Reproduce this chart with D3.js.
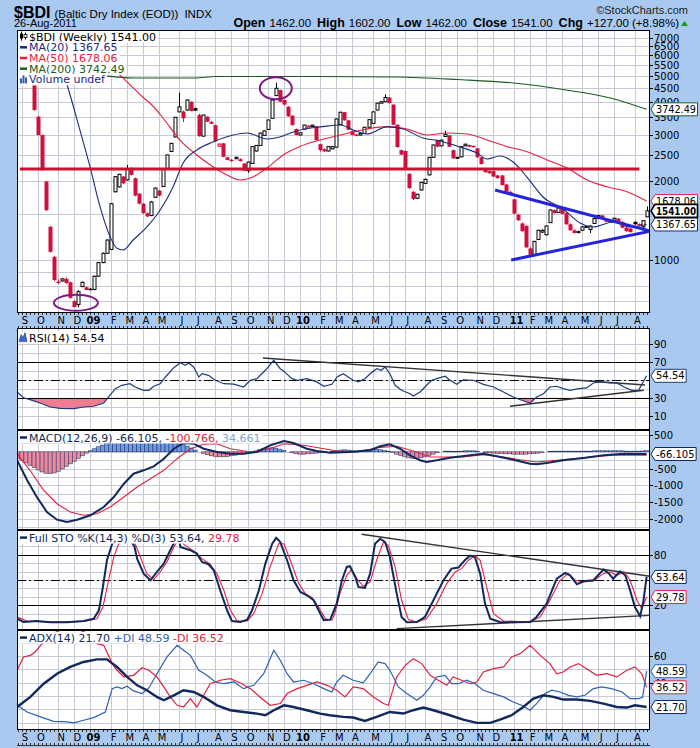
<!DOCTYPE html>
<html><head><meta charset="utf-8">
<script src="https://cdn.jsdelivr.net/npm/d3@7/dist/d3.min.js"></script>
<style>
html,body{margin:0;padding:0;background:#a9c9f1;}
svg{display:block;}
</style></head><body>
<svg id="chart" width="700" height="748"></svg>
<script>
// ================= DATA =================
const firstWeek = "2008-09-26";           // week of the first visible bar (index 0)
const symbolTitle = "$BDI";
const symbolName = "(Baltic Dry Index (EOD))";
const exchange = "INDX";
const lastDate = "26-Aug-2011";
const quote = [["Open","1462.00"],["High","1602.00"],["Low","1462.00"],["Close","1541.00"],["Chg","+127.00 (+8.98%)"]];

const openP = [4700,3510,2990,1990,1340,1030,830,835,850,825,
700,680,795,790,780,775,870,980,1063,1100,
1820,1900,2080,2020,2240,2050,1790,1640,1510,1480,
1735,1840,1905,2230,2590,2940,3660,3670,3720,4000,
3780,3560,2960,3510,3350,3260,2710,2780,2460,2410,
2430,2420,2330,2190,2330,2600,2730,2980,3140,3460,
4220,4430,4060,3830,3540,3150,2990,3145,3180,3220,
3230,2760,2640,2600,2650,2690,3280,3650,3400,3100,
3000,2990,3030,3200,3310,3720,3950,4000,4150,3900,
3270,2620,2600,2130,1820,1720,1850,1960,2110,2460,
2860,2720,2950,2980,2620,2440,2470,2720,2740,2720,
2660,2460,2230,2180,2180,2100,2100,1940,1820,1705,
1490,1380,1350,1110,1050,1200,1280,1250,1390,1550,
1520,1580,1510,1370,1300,1290,1300,1340,1310,1380,
1440,1480,1430,1400,1420,1440,1400,1330,1320,1400,
1375,1340,1462];
const highP = [4750,3530,3000,2000,1350,1040,845,855,860,830,
705,770,830,795,785,875,985,1070,1200,1650,
2090,2130,2090,2300,2260,2060,1800,1650,1520,1680,
1890,1850,2240,2520,2790,3500,4325,3700,4080,4010,
3800,3600,3570,3520,3380,3270,2780,2790,2470,2420,
2470,2440,2340,2370,2710,2740,3050,3110,3420,4070,
4720,4440,4080,3840,3550,3160,3060,3270,3260,3270,
3240,2770,2660,2710,2720,3450,3660,3660,3410,3110,
3020,3040,3210,3430,3670,3960,4010,4270,4160,3910,
3280,2630,2610,2140,1830,1790,1980,2040,2470,2750,
2870,2870,3100,2990,2630,2470,2710,2770,2750,2730,
2670,2470,2240,2190,2190,2110,2110,1950,1830,1710,
1500,1390,1360,1120,1185,1305,1310,1355,1560,1560,
1585,1590,1520,1380,1310,1295,1345,1350,1355,1445,
1485,1485,1435,1415,1450,1445,1405,1335,1325,1405,
1380,1420,1602];
const lowP = [3700,2980,2190,1540,1070,835,815,830,815,715,
663,663,790,770,770,770,865,975,1060,1095,
1810,1890,1950,2010,2100,1750,1630,1500,1460,1470,
1730,1750,1900,2220,2580,2930,3650,3350,3700,3680,
3690,2950,2950,3350,3290,2820,2700,2460,2400,2370,
2420,2370,2180,2150,2320,2590,2720,2970,3130,3450,
4210,3990,3880,3510,3250,2980,2980,3140,3170,3210,
2850,2590,2580,2590,2640,2680,3270,3390,3120,2980,
2970,2980,3020,3190,3300,3710,3940,3990,3940,3260,
2680,2510,2220,1870,1694,1710,1840,1950,2100,2450,
2690,2710,2940,2690,2430,2430,2460,2710,2690,2680,
2450,2310,2150,2130,2070,2040,1920,1810,1780,1500,
1410,1285,1115,1043,1045,1195,1270,1245,1385,1505,
1515,1495,1365,1295,1265,1265,1295,1335,1270,1375,
1435,1435,1395,1395,1415,1395,1325,1285,1275,1365,
1355,1320,1462];
const closeP = [3720,2990,2200,1550,1077,842,825,850,820,720,
665,760,825,772,775,870,980,1063,1194,1640,
2077,2120,1960,2230,2110,1760,1640,1510,1467,1665,
1880,1760,2230,2512,2780,3490,3820,3460,4060,3690,
3700,2960,3560,3360,3300,2830,2760,2470,2405,2380,
2460,2380,2190,2360,2700,2730,3040,3100,3410,4060,
4500,4000,3900,3520,3260,2990,3050,3260,3230,3260,
2860,2620,2590,2700,2700,3440,3650,3400,3130,2990,
2980,3030,3200,3420,3660,3950,4000,4150,3950,3270,
2690,2520,2230,1880,1710,1780,1975,2030,2460,2740,
2700,2860,3000,2700,2440,2460,2700,2760,2700,2690,
2460,2320,2160,2140,2080,2050,1930,1820,1790,1503,
1420,1290,1120,1050,1180,1300,1300,1350,1552,1510,
1580,1500,1370,1300,1270,1270,1340,1345,1350,1440,
1480,1440,1400,1410,1445,1400,1330,1290,1280,1370,
1360,1414,1541];

// moving averages, [week index, value]
const ma20 = [[6.5,5600],[8.1,4700],[10.9,3322],[13.9,2261],[16.4,1594],[18.9,1226],[20.5,1113],[22.1,1094],[24.6,1194],[28,1338],[31.3,1552],[34.5,1898],[37,2341],[40.4,2623],[44.4,2813],[49.4,2990],[52.9,3043],[57.8,2887],[61,2938],[64.3,3070],[68.5,3180],[71,3209],[76,3265],[79.2,3124],[82.6,3016],[87.6,3209],[91.6,3151],[96.5,2912],[100.7,2838],[105.7,2693],[109.9,2555],[112.4,2424],[115.6,2489],[118.9,2361],[122.3,2071],[126.3,1739],[131.3,1566],[135.5,1385],[138.7,1338],[143.7,1398],[147.9,1338],[152,1367.65]];
const ma50 = [[12,6700],[16.4,5970],[21.3,5060],[27,4169],[29.5,3853],[32,3470],[36.2,2862],[40.4,2511],[44.4,2267],[47.9,2108],[51.1,2018],[54.4,2077],[57.8,2240],[61.8,2511],[66,2705],[71,2862],[76,2990],[82.6,3151],[87.6,3216],[92.6,3151],[97.5,2990],[102.5,3043],[107.5,3016],[112.4,2862],[117.4,2700],[122.3,2585],[127.3,2403],[132.3,2240],[137.2,2018],[142.2,1903],[147.1,1822],[152,1678.06]];
const ma200 = [[10,5200],[14,5097],[25,4920],[40,4920],[45,4985],[70,4985],[90,4963],[105,4857],[119,4711],[132,4433],[143,4133],[152,3742.49]];
const maLast = {ma20:"1367.65", ma50:"1678.06", ma200:"3742.49"};
const lastClose = "1541.00";

const priceTicks = [7000,6500,6000,5500,5000,4500,4000,3500,3000,2500,2000,1000];
const priceGrid = [7000,6500,6000,5500,5000,4500,4000,3500,3000,2500,2000,1500,1000,900,800,700];
const supportLevel = [[-3.5,2222],[150.2,2222]];
const upperTrend = [[114.4,1849],[153,1290]];
const lowerTrend = [[118.4,1003],[153,1290]];
const circles = [[10.4,690],[60,4498]];

// RSI(14)
const rsi = [[-4.2,36.4],[-2.6,30],[-1,27.8],[1.5,24],[4,19.6],[6.5,18.1],[9.9,17.7],[12.3,19.6],[14.8,20.4],[17.3,24],[18.5,30.8],[20.2,40.1],[21.8,43.9],[23.8,45.7],[25.1,42],[27.2,38.3],[28.5,38.3],[29.7,42.8],[31.3,45.7],[32.6,53.2],[34.7,63.6],[36.3,69.2],[37.5,66.3],[38.4,68.8],[39.6,64.4],[40.9,53.2],[41.7,56.9],[43.3,55.1],[45,49.5],[47.1,45.7],[49.6,45.2],[52,42],[53.7,49.5],[55.3,51.3],[57.4,60.7],[59.5,71.9],[61.1,62.5],[61.9,60],[64,51.3],[65.3,49.5],[67.7,51.3],[70.2,47.7],[71.9,42.8],[73.9,45],[75.2,53.2],[76.7,56.9],[79.2,49.5],[80.5,47.7],[82.1,51.3],[83.4,56.9],[85,62.5],[86.2,60.7],[87.1,64.4],[88.3,56.9],[89.6,43.9],[91.2,38.3],[93.3,34.5],[94.1,31.9],[95.8,36.4],[97.4,43.9],[98.7,49.5],[99.9,51.3],[102,54],[103.2,49.5],[104.9,45],[106.5,50.1],[109,49.5],[111.5,45],[114,42],[116.5,36.4],[118.9,30.8],[121,27.1],[123.1,24.1],[124.7,30.8],[126.4,34.5],[128,42],[129.7,42.8],[131.3,40.1],[133,38.3],[135.1,40.1],[137.1,40.9],[138.8,46.5],[140.4,47.7],[142.9,46.5],[144.6,46.5],[146.4,42],[148.3,38.3],[150,38.3],[152,54.54]];
const rsiTicks = [90,70,30,10];
const rsiUpper = [[56.8,74.5],[151.6,44.3]];
const rsiLower = [[118.1,20.4],[151.3,38.3]];

// MACD(12,26,9)
const macd = [[-4.2,-253],[-1.7,-848],[0.7,-1345],[3.2,-1792],[5.7,-2020],[8.2,-2089],[10.7,-2020],[14,-1890],[17.3,-1643],[19.8,-1345],[22.3,-949],[24.7,-652],[27.2,-551],[29.7,-432],[32.2,-205],[34.7,92],[37.1,262],[39.6,241],[42.1,92],[45.4,-6],[48.7,-56],[52,-56],[55.3,-6],[58.6,193],[62,321],[64.4,262],[67.7,92],[70.2,24],[73.5,-30],[78.4,-6],[83.4,45],[85.9,164],[88.3,223],[90.8,92],[93.3,-104],[95.8,-253],[97.4,-303],[99.9,-253],[103.2,-176],[108.2,-104],[111.5,-56],[114.8,-134],[118.9,-235],[123.1,-354],[124.7,-372],[127.2,-333],[131.3,-253],[136.3,-185],[141.3,-104],[146.4,-56],[152,-66.105]];
const signal = [[-4.2,-56],[-1,-551],[2.4,-1146],[5.7,-1545],[9,-1792],[12.3,-1890],[15.6,-1842],[18.9,-1643],[22.3,-1345],[25.6,-1048],[28.9,-800],[32.2,-551],[35.5,-205],[38.8,92],[42.1,223],[45.4,241],[48.7,92],[53.7,-6],[58.6,92],[62,241],[66.9,193],[71.9,92],[75.2,24],[80.1,-6],[85.9,133],[90,164],[94.1,24],[98.3,-155],[106.5,-155],[111.5,-86],[116.5,-155],[120.6,-235],[124.7,-303],[129.7,-253],[136.3,-176],[143.7,-104],[152,-100.766]];
const histStart = -4;
const hist = [-200,-260,-330,-400,
-470,-540,-600,-640,-650,-630,-580,-510,-440,-360,
-280,-200,-120,-40,30,90,150,200,240,270,
290,300,310,310,310,310,310,310,310,320,
320,320,320,320,310,290,260,220,170,110,
50,0,-50,-90,-120,-140,-150,-150,-140,-120,
-100,-80,-60,-40,-10,20,60,90,110,120,
110,80,40,0,-30,-60,-70,-70,-60,-50,
-40,-30,-10,0,10,30,50,60,50,30,
20,30,50,60,70,70,60,40,20,-20,
-70,-110,-150,-180,-200,-200,-180,-150,-110,-70,
-30,0,20,20,10,10,20,30,30,30,
20,0,-20,-30,-40,-50,-50,-60,-60,-70,
-70,-70,-70,-60,-50,-40,-20,0,10,20,
20,20,20,20,20,20,20,20,20,30,
30,30,30,30,30,30,30,20,20,20,
20,25,35];
const macdTicks = [500,-500,-1000,-1500,-2000];
const macdLast = ["-66.105","-100.766","34.661"];

// Full STO %K(14,3) %D(3)
const stoK = [[-4.2,4.2],[-2.6,0.2],[0.7,1.4],[4,0],[8.2,0],[12.3,1.4],[14.8,4],[16.1,14],[17.1,41.8],[18.1,73.4],[19.4,93],[20.6,99],[21.8,100],[23.8,98],[24.9,90],[25.6,75],[27.2,57.5],[28.9,49.7],[30.5,59.5],[32.2,69.4],[33.8,85.3],[35.1,97],[36,99],[36.3,89.2],[38.8,85.3],[40.4,81.3],[41.7,71.4],[43.3,68.7],[44.6,61.6],[46.2,37.8],[47.9,14.1],[49.1,1.4],[51.2,0.2],[52.9,3],[54.1,14.1],[55.8,37.8],[57.4,69.4],[59.1,93],[60.1,100],[61.1,95],[62.8,73.4],[64.4,49.7],[66.1,35.8],[67.7,31.9],[69.4,26],[70.6,14.1],[71.9,2.3],[73.5,3],[75.1,22],[76.4,49.7],[77.6,65.5],[78.4,66.3],[79.7,53.6],[80.5,41.8],[82.1,40.6],[83.4,57.5],[84.6,93],[85.9,99],[87.1,95],[88.3,77.3],[90,33.8],[91.2,6.2],[92.5,0],[95,0.2],[97,6.2],[99.1,26],[101.6,49.7],[103.6,63.5],[105.3,64.7],[106.9,73.4],[108.2,78.9],[109.4,77.3],[110.7,57.5],[111.9,22],[113.2,4.2],[115.6,0.2],[118.9,0],[123.1,0.2],[124.7,6.2],[127.2,22],[129.7,51.6],[131.8,58.4],[133,55.6],[134.7,45],[136.7,48.9],[138.8,49.7],[141.3,62.3],[142.5,58.4],[143.7,51.6],[145.4,60.4],[146.7,55.6],[147.9,37.8],[149.1,18],[150.4,7],[151.2,25],[152,53.64]];
const stoD = [[-4.2,6],[-1.7,1.4],[4,0],[12.3,0.8],[15.6,4],[17.1,18],[18.5,49.7],[19.8,77.3],[21,93],[22.5,100],[24,99],[25.1,93],[28,57.5],[29.7,50.5],[31.3,59.5],[33,71.4],[34.7,89.2],[35.8,98],[37.5,91],[39.6,84.5],[41.7,75.4],[43.7,68.7],[45.4,57.5],[47.1,37.8],[48.7,14.1],[50.4,1.4],[52.9,1.4],[54.5,10],[56.6,33.8],[58.6,65.5],[60.7,93],[62,93],[63.6,73.4],[65.7,45.7],[67.3,33.8],[69,29],[70.6,18],[72.3,4],[73.9,2.3],[74.6,10],[75.9,33.8],[77.6,55.6],[78.8,62.3],[80.1,51.6],[81.7,42.6],[83.4,47.7],[85,73.4],[86.7,95],[87.9,91],[89.6,65.5],[91.2,26],[92.9,3],[95,0.2],[97.4,4],[99.9,22],[102.4,45.7],[104.5,59.5],[106.1,63.5],[107.8,73.4],[109.4,79],[110.7,73.4],[112.3,41.8],[114,10],[116.5,1.4],[123.1,0.2],[125.6,6.2],[128,26],[130.5,49.7],[132.6,57.5],[134.3,49.7],[136.3,47.7],[138.8,48.9],[141.3,57.5],[142.9,59.5],[144.6,55.6],[146.4,59.5],[147.9,49.7],[149.6,26],[150.8,15.8],[152,29.78]];
const stoTicks = [80,20];
const stoUpper = [[81.3,104.3],[152.8,54.4]];
const stoLower = [[90,-7.7],[153.3,8.2]];

// ADX(14)
const adx = [[-4.2,21.75],[-0.9,29.3],[2.4,39.2],[5.7,46.7],[9,51.8],[12.3,55.5],[15.6,57.5],[18.1,57.5],[20.6,51.8],[23.1,44.3],[25.6,38],[28,34.3],[30.5,29.3],[32.2,26.8],[34.7,30.5],[37.1,34.3],[39.6,33],[42.1,29.3],[45.4,23],[48.7,19.3],[52,18],[55.3,16.8],[57.4,15.5],[59.5,19.3],[62,23],[64.4,21.75],[67.7,19.3],[71,16.8],[73.4,15.5],[76.7,14.3],[79.2,13.8],[82.1,11.3],[85,14.3],[88.3,18],[91.6,16.8],[94.1,19.3],[96.6,21.3],[99.1,19.3],[102.4,16.3],[106.5,12.3],[109.9,9.8],[113.2,9.8],[115.6,12.3],[118.5,15.5],[121.4,21.75],[123.9,28],[126.4,30.5],[128.9,29.3],[131.3,27.3],[134.7,27.3],[138,26.3],[141.3,24.3],[144.6,21.75],[147.1,21.3],[149.1,23],[152,21.7]];
const plusDI = [[-4.2,23],[-1.7,18],[1.6,14.3],[4.9,11],[8.2,10.5],[9.9,9.8],[12.3,11.8],[14.8,13.8],[17.7,18],[19.4,35.5],[20.6,36.8],[21.8,35.5],[23.1,37.3],[24.7,33.8],[26.8,31.8],[28.5,36],[30.5,46.7],[33,59.3],[35.5,68],[37.1,64.3],[38.8,60.5],[40.9,49.3],[42.9,45.5],[45,40.5],[47.1,39.2],[49.6,40.5],[52,35.5],[54.5,38],[57,46.7],[59.5,64.3],[61.1,56.8],[62.8,46.7],[64.4,40.5],[66.9,41.8],[69.4,39.2],[71.9,35.5],[73.9,33],[75.1,40.5],[76.7,45.5],[79.2,41.8],[81.7,39.8],[83.4,46.7],[85.4,55.5],[87.1,54.3],[88.3,49.3],[90.4,36.8],[92.5,31.8],[95,26.8],[96.6,30.5],[98.3,36.8],[99.9,44.3],[102,45.5],[103.6,39.2],[105.3,39.2],[107.4,41.8],[109.4,39.2],[111.5,34.3],[114,31.8],[116.5,29.3],[118.9,25.5],[121,23],[123.1,19.3],[124.7,24.3],[126.8,31.8],[128.5,34.3],[130.5,33],[132.6,30.5],[134.7,29.3],[136.7,30.5],[138.8,35.5],[140.9,36.8],[143.3,35.5],[145.9,33],[147.9,28],[150,28],[151,29],[152,48.59]];
const minusDI = [[-4.2,49.3],[-2.6,59.3],[-0.9,60.5],[0.3,63],[2,69.3],[4,76],[7,80],[11,80],[14,76],[15.6,69.3],[17.3,68],[19.4,54.3],[20.6,49.3],[22.3,44.3],[24.7,45.5],[26.8,51.2],[28.5,49.3],[30.5,44.3],[32.2,36.8],[33.8,29.3],[35.5,23],[37.1,21.75],[38.8,28],[40.4,21.75],[42.1,30.5],[43.7,39.2],[46.2,41.8],[48.7,43],[51.2,39.8],[53.7,35.5],[56.2,28.8],[58.6,23],[61.1,24.3],[62.8,31.8],[65.3,35.5],[67.7,38],[70.2,40.5],[72.7,38],[75.1,34.3],[77.2,29.3],[79.2,36.8],[81.7,35.5],[84.2,29.3],[86.7,24.3],[87.9,23],[90,44.3],[92.1,53],[94.1,58],[96.2,54.3],[98.3,45.5],[100.3,41.8],[102.4,38],[104,44.3],[106.1,41.8],[108.2,39.2],[109.9,40.5],[111.5,48],[114,50.5],[116.5,51.8],[118.5,59.3],[120.6,61.8],[123.1,68],[125.6,60.5],[128,54.3],[129.7,46.7],[131.3,48],[133,51.8],[135.1,54.3],[137.1,50.5],[139.6,45.5],[142.1,46.7],[144.6,44.3],[147.1,49.3],[149.1,51.8],[150.8,46.7],[152,36.52]];
const adxTicks = [60,40];
const monthLetters = ["J","F","M","A","M","J","J","A","S","O","N","D"];

// ================= DRAWING =================
const svg = d3.select("#chart");
const FONT = "'DejaVu Sans', Verdana, sans-serif";
const HFONT = "'Liberation Sans', Arial, sans-serif";
const BG = "#a9c9f1", GRID = "#c6cad6";
const NAVY = "#10285c", RED = "#e3203f", CANDLE_RED = "#d0103c", BLUE = "#2f5fb3", GREEN = "#1d5a1d";
const L = 17, R = 650;
svg.append("rect").attr("width",700).attr("height",748).attr("fill",BG);

const x = d3.scaleLinear().domain([-4.22, 152.84]).range([L, R]);
const d0 = d3.timeParse("%Y-%m-%d")(firstWeek);
const dateOf = i => d3.timeDay.offset(d0, 7*i);
const weeks = d3.range(-4, closeP.length);
const monthStarts = weeks.filter(i => dateOf(i).getMonth() !== dateOf(i-1).getMonth());

const defs = svg.append("defs");
let clipN = 0;
function panel(y0, y1, yScale, gridVals) {
  const id = "clip" + (clipN++);
  defs.append("clipPath").attr("id", id).append("rect").attr("x", L).attr("y", y0).attr("width", R-L).attr("height", y1-y0);
  svg.append("rect").attr("x", L).attr("y", y0).attr("width", R-L).attr("height", y1-y0).attr("fill", "#fff");
  const g = svg.append("g").attr("clip-path", `url(#${id})`);
  g.selectAll(null).data(monthStarts).enter().append("line")
    .attr("x1", d => Math.round(x(d))+0.5).attr("x2", d => Math.round(x(d))+0.5)
    .attr("y1", y0).attr("y2", y1).attr("stroke", GRID).attr("stroke-width",1);
  g.selectAll(null).data(gridVals).enter().append("line")
    .attr("x1", L).attr("x2", R).attr("y1", d => Math.round(yScale(d))+0.5).attr("y2", d => Math.round(yScale(d))+0.5)
    .attr("stroke", GRID).attr("stroke-width",1);
  return {g, y0, y1, id};
}
function border(p) {
  svg.append("rect").attr("x", L+0.5).attr("y", p.y0+0.5).attr("width", R-L-1).attr("height", p.y1-p.y0-1)
    .attr("fill","none").attr("stroke","#000").attr("stroke-width",1);
}
function axisLabels(yScale, vals) {
  vals.forEach(v => {
    const yy = Math.round(yScale(v))+0.5;
    svg.append("line").attr("x1",R).attr("x2",R+3).attr("y1",yy).attr("y2",yy).attr("stroke","#000");
    svg.append("text").attr("x",R+4).attr("y",yy+3.5).attr("font-family",FONT).attr("font-size",10)
      .attr("fill","#000").text(v);
  });
}
function flag(yy, txt, color, bold) {
  const g = svg.append("g");
  const p = g.append("path");
  const t = g.append("text").attr("x",R+6).attr("y",yy+3.7).attr("font-family",FONT).attr("font-size",10)
    .attr("font-weight", bold ? "bold":"normal").attr("fill","#000").text(txt);
  let w = t.node().getComputedTextLength();
  if (w > 40) { t.attr("textLength", 40).attr("lengthAdjust","spacingAndGlyphs"); w = 40; }
  const x2 = R + 7.5 + w;
  p.attr("d", `M${R+1},${yy}L${R+5},${yy-6.5}H${x2}V${yy+6.5}H${R+5}Z`)
   .attr("fill","#fff").attr("stroke",color).attr("stroke-width", bold?1.6:1);
}
function legendLine(yBase, parts, iconFn) {
  const g = svg.append("g");
  const bg = g.append("rect");
  const t = g.append("text").attr("x", L+12).attr("y", yBase).attr("font-family",FONT).attr("font-size",11);
  parts.forEach(pt => t.append("tspan").attr("fill", pt[1]).text(pt[0]));
  const w = t.node().getComputedTextLength();
  bg.attr("x", L+1).attr("y", yBase-9.5).attr("width", w+13).attr("height", 11.5).attr("fill","#fff");
  if (iconFn) iconFn(g, yBase);
}
const dashIcon = color => (g, yb) => g.append("line").attr("x1",L+3).attr("x2",L+10).attr("y1",yb-4).attr("y2",yb-4).attr("stroke",color).attr("stroke-width",2.5);
const lineGen = (ys, curve) => d3.line().x(d => x(d[0])).y(d => ys(d[1])).curve(curve || d3.curveLinear);

// ---------- month label bands ----------
function monthBand(yTop, yBot) {
  svg.selectAll(null).data(weeks).enter().append("line")
    .attr("x1", d => Math.round(x(d))+0.5).attr("x2", d => Math.round(x(d))+0.5)
    .attr("y1", yTop).attr("y2", yTop+2).attr("stroke","#333").attr("stroke-width",1);
  svg.selectAll(null).data(weeks).enter().append("line")
    .attr("x1", d => Math.round(x(d))+0.5).attr("x2", d => Math.round(x(d))+0.5)
    .attr("y1", yBot-2).attr("y2", yBot).attr("stroke","#333").attr("stroke-width",1);
  svg.selectAll(null).data(monthStarts).enter().append("text")
    .attr("x", d => x(d)+3).attr("y", yTop+11).attr("text-anchor","middle")
    .attr("font-family",FONT).attr("font-size",10)
    .attr("font-weight", d => dateOf(d).getMonth()===0 ? "bold":"normal")
    .attr("fill","#000")
    .text(d => { const dt = dateOf(d); return dt.getMonth()===0 ? d3.timeFormat("%y")(dt) : monthLetters[dt.getMonth()]; });
}

// ---------- PRICE PANEL ----------
const yP = d3.scaleLog().domain([1000,7000]).range([260.3,37.7]);
const pp = panel(30, 313, yP, priceGrid);
const cg = pp.g.append("g");
closeP.forEach((c, i) => {
  const o = openP[i], h = highP[i], l = lowP[i];
  const prev = i>0 ? closeP[i-1] : o;
  const cx = Math.round(x(i)) + 0.5;
  const hollow = c >= o;
  const col = c >= prev ? "#000" : CANDLE_RED;
  cg.append("line").attr("x1",cx).attr("x2",cx).attr("y1",yP(h)).attr("y2",yP(l)).attr("stroke",col).attr("stroke-width",1);
  const top = yP(Math.max(o,c)), bot = yP(Math.min(o,c));
  if (hollow) {
    cg.append("rect").attr("x",cx-1.5).attr("y",top).attr("width",3).attr("height",Math.max(1,bot-top))
      .attr("fill","#fff").attr("stroke",col).attr("stroke-width",1);
  } else {
    cg.append("rect").attr("x",cx-2).attr("y",top).attr("width",4).attr("height",Math.max(1.5,bot-top)).attr("fill",col);
  }
});
pp.g.append("path").datum(ma200).attr("d", lineGen(yP, d3.curveMonotoneX)).attr("fill","none").attr("stroke",GREEN).attr("stroke-width",1.1);
pp.g.append("path").datum(ma50).attr("d", lineGen(yP, d3.curveMonotoneX)).attr("fill","none").attr("stroke",RED).attr("stroke-width",1.1);
pp.g.append("path").datum(ma20).attr("d", lineGen(yP, d3.curveMonotoneX)).attr("fill","none").attr("stroke","#1c2a80").attr("stroke-width",1.1);
pp.g.append("path").datum(supportLevel).attr("d", lineGen(yP)).attr("stroke","#cc1030").attr("stroke-width",3);
[upperTrend, lowerTrend].forEach(tl => pp.g.append("path").datum(tl).attr("d", lineGen(yP)).attr("stroke","#2424d8").attr("stroke-width",3));
const circSize = [[22,8],[16,11]];
circles.forEach((c, k) => pp.g.append("ellipse").attr("cx", x(c[0])).attr("cy", yP(c[1]))
  .attr("rx", circSize[k][0]).attr("ry", circSize[k][1]).attr("fill","none").attr("stroke","#7e1a86").attr("stroke-width",2));
border(pp);
// price legend
legendLine(40.6, [[`${symbolTitle} (Weekly) ${lastClose}`, "#000"]], (g, yb) => {
  g.append("line").attr("x1",L+4.5).attr("x2",L+4.5).attr("y1",yb-9).attr("y2",yb).attr("stroke","#000");
  g.append("rect").attr("x",L+3).attr("y",yb-7).attr("width",3).attr("height",5).attr("fill","#000");
  g.append("line").attr("x1",L+8.5).attr("x2",L+8.5).attr("y1",yb-8).attr("y2",yb-1).attr("stroke","#000");
  g.append("rect").attr("x",L+7).attr("y",yb-6).attr("width",3).attr("height",3).attr("fill","#fff").attr("stroke","#000").attr("stroke-width",0.8);
});
legendLine(51.3, [[`MA(20) ${maLast.ma20}`, "#1c2a80"]], dashIcon("#1c2a80"));
legendLine(62.0, [[`MA(50) ${maLast.ma50}`, RED]], dashIcon(RED));
legendLine(72.7, [[`MA(200) ${maLast.ma200}`, GREEN]], dashIcon(GREEN));
legendLine(83.4, [["Volume undef", "#1c2a80"]], (g, yb) => {
  [[3,5],[5.5,8],[8,6]].forEach(b => g.append("rect").attr("x",L+b[0]).attr("y",yb-b[1]).attr("width",2).attr("height",b[1]).attr("fill","#2f5fb3"));
});
axisLabels(yP, priceTicks);
flag(yP(3742.49), maLast.ma200, GREEN, false);
flag(yP(1678.06), maLast.ma50, RED, false);
flag(yP(1367.65), maLast.ma20, "#1c2a80", false);
flag(yP(1541), lastClose, "#000", true);

monthBand(313, 328);

// ---------- RSI ----------
const yR = d3.scaleLinear().domain([30,70]).range([397.7,362]);
const rp = panel(328, 430, yR, d3.range(10,100,10));
defs.append("clipPath").attr("id","rsiLow").append("rect").attr("x",L).attr("y",yR(30)).attr("width",R-L).attr("height",40);
rp.g.append("g").attr("clip-path","url(#rsiLow)").append("path").datum(rsi)
  .attr("d", d3.area().x(d=>x(d[0])).y0(yR(30)).y1(d=>yR(d[1])))
  .attr("fill","#ee7d93");
[70,30].forEach(v => rp.g.append("line").attr("x1",L).attr("x2",R).attr("y1",Math.round(yR(v))+0.5).attr("y2",Math.round(yR(v))+0.5).attr("stroke","#000"));
rp.g.append("line").attr("x1",L).attr("x2",R).attr("y1",Math.round(yR(50))+0.5).attr("y2",Math.round(yR(50))+0.5).attr("stroke","#000").attr("stroke-dasharray","9,3,2,3");
[rsiUpper, rsiLower].forEach(tl => rp.g.append("path").datum(tl).attr("d", lineGen(yR)).attr("stroke","#333").attr("stroke-width",1.4));
rp.g.append("path").datum(rsi).attr("d", lineGen(yR)).attr("fill","none").attr("stroke","#1f3c78").attr("stroke-width",1.2);
border(rp);
legendLine(341.6, [["RSI(14) 54.54","#000"]], (g, yb) => {
  g.append("path").attr("d",`M${L+2},${yb}L${L+4},${yb-7}L${L+6},${yb-4}L${L+8},${yb-9}L${L+10},${yb}Z`).attr("fill","#3a6ad0").attr("stroke","#1c3a90").attr("stroke-width",0.6);
});
axisLabels(yR, rsiTicks);
flag(yR(54.54), "54.54", "#1f3c78", false);

// ---------- MACD ----------
const yM = d3.scaleLinear().domain([0,-2000]).range([451.8,519]);
const mp = panel(430, 530, yM, d3.range(-2250, 751, 250));
const hw = x(1) - x(0);
mp.g.selectAll(null).data(hist).enter().append("rect")
  .attr("x", (d,k) => x(k+histStart) - hw/2).attr("width", hw)
  .attr("y", d => Math.min(yM(0), yM(d))).attr("height", d => Math.abs(yM(d)-yM(0)))
  .attr("fill", d => d >= 0 ? "#6f9be6" : "#ec8aa0").attr("stroke","#1a2a5a").attr("stroke-width",0.5);
mp.g.append("path").datum(signal).attr("d", lineGen(yM)).attr("fill","none").attr("stroke",RED).attr("stroke-width",1.1);
mp.g.append("path").datum(macd).attr("d", lineGen(yM)).attr("fill","none").attr("stroke",NAVY).attr("stroke-width",2);
border(mp);
legendLine(441.5, [[`MACD(12,26,9) ${macdLast[0]}, `, NAVY],[`${macdLast[1]}, `, RED],[macdLast[2], "#7d9fd8"]], dashIcon(NAVY));
axisLabels(yM, macdTicks);
flag(yM(-66.105), "-66.105", NAVY, false);

// ---------- STO ----------
const yS = d3.scaleLinear().domain([20,80]).range([605.3,554.7]);
const sp = panel(530, 630, yS, d3.range(10,100,10));
[80,20].forEach(v => sp.g.append("line").attr("x1",L).attr("x2",R).attr("y1",Math.round(yS(v))+0.5).attr("y2",Math.round(yS(v))+0.5).attr("stroke","#000"));
sp.g.append("line").attr("x1",L).attr("x2",R).attr("y1",Math.round(yS(50))+0.5).attr("y2",Math.round(yS(50))+0.5).attr("stroke","#000").attr("stroke-dasharray","9,3,2,3");
[stoUpper, stoLower].forEach(tl => sp.g.append("path").datum(tl).attr("d", lineGen(yS)).attr("stroke","#333").attr("stroke-width",1.4));
sp.g.append("path").datum(stoD).attr("d", lineGen(yS)).attr("fill","none").attr("stroke",RED).attr("stroke-width",1.1);
sp.g.append("path").datum(stoK).attr("d", lineGen(yS)).attr("fill","none").attr("stroke",NAVY).attr("stroke-width",2);
border(sp);
legendLine(541.6, [["Full STO %K(14,3) %D(3) 53.64, ", NAVY],["29.78", RED]], dashIcon(NAVY));
axisLabels(yS, stoTicks);
flag(yS(53.64), "53.64", NAVY, false);
flag(yS(29.78), "29.78", RED, false);

// ---------- ADX ----------
const yA = d3.scaleLinear().domain([20,60]).range([709.3,656]);
const ap = panel(630, 730, yA, d3.range(10,80,10));
ap.g.append("path").datum(minusDI).attr("d", lineGen(yA)).attr("fill","none").attr("stroke",RED).attr("stroke-width",1.2);
ap.g.append("path").datum(plusDI).attr("d", lineGen(yA)).attr("fill","none").attr("stroke",BLUE).attr("stroke-width",1.2);
ap.g.append("path").datum(adx).attr("d", lineGen(yA)).attr("fill","none").attr("stroke",NAVY).attr("stroke-width",2.4);
border(ap);
legendLine(641.6, [["ADX(14) 21.70 ", NAVY],["+DI 48.59 ", BLUE],["-DI 36.52", RED]], dashIcon(NAVY));
axisLabels(yA, adxTicks);
flag(yA(48.59), "48.59", BLUE, false);
flag(yA(36.52), "36.52", RED, false);
flag(yA(21.70), "21.70", NAVY, false);

monthBand(730, 745);
svg.append("line").attr("x1",L).attr("x2",R).attr("y1",745.5).attr("y2",745.5).attr("stroke","#333");

// ---------- HEADER ----------
const h1 = svg.append("text").attr("x",14).attr("y",18).attr("font-family",HFONT);
h1.append("tspan").attr("font-size",16).attr("font-weight","bold").text(symbolTitle);
h1.append("tspan").attr("font-size",11.5).attr("dx",4).text(symbolName);
h1.append("tspan").attr("font-size",11.5).attr("dx",6).text(exchange);
svg.append("text").attr("x",688).attr("y",14).attr("text-anchor","end").attr("font-family",HFONT).attr("font-size",11).attr("fill","#222").text("\u00A9StockCharts.com");
svg.append("text").attr("x",14).attr("y",27).attr("font-family",HFONT).attr("font-size",11).text(lastDate);
const h2 = svg.append("text").attr("x",679).attr("y",27).attr("text-anchor","end").attr("font-family",HFONT);
quote.forEach((q, k) => {
  h2.append("tspan").attr("font-size",12.5).attr("font-weight","bold").attr("dx", k ? 6 : 0).text(q[0]);
  h2.append("tspan").attr("font-size",11.5).attr("dx",4).text(q[1]);
});
svg.append("path").attr("d","M681,26L684.5,21L688,26Z").attr("fill","#1a9a1a");
</script>
</body></html>
